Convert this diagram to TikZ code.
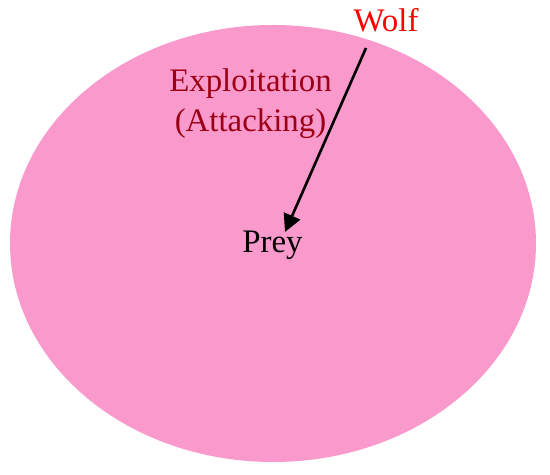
\documentclass[tikz,border=0pt]{standalone}
\usepackage{fontspec}
\setmainfont{Liberation Serif}
\usetikzlibrary{arrows.meta}
\definecolor{prey pink}{RGB}{250,154,204}
\definecolor{exploit red}{RGB}{155,0,20}
\tikzset{
    label text/.style={inner sep=0pt, anchor=base, font=\fontsize{18.7}{22.8}\selectfont},
}
\begin{document}
\begin{tikzpicture}[x=0.02cm, y=-0.02cm]
    \useasboundingbox (0,0) rectangle (550,475);
    \fill[prey pink] (273,243.5) ellipse (263 and 218.5);
    \node[label text, red] (wolf) at (386,32) {Wolf};
    \node[label text, exploit red, align=center] (exploit) at (250.5,132) {Exploitation\\(Attacking)};
    \node[label text] (prey) at (272.5,253) {Prey};
    \coordinate (attack) at (366,48);
    \coordinate (catch) at (285,232);
    \draw[line width=1.5pt, -{Triangle[length=10pt,width=10pt]}] (attack) -- (catch);
\end{tikzpicture}
\end{document}
